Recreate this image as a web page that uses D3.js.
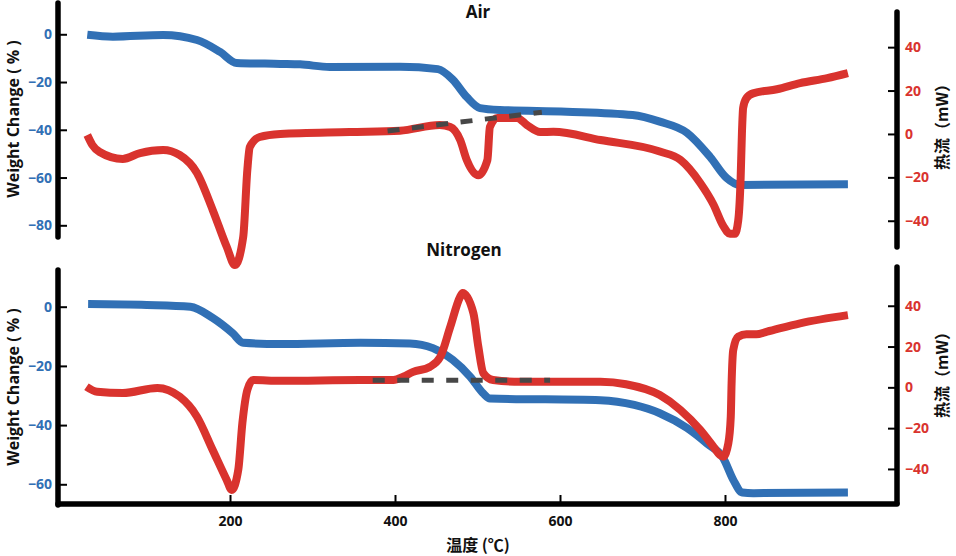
<!DOCTYPE html>
<html>
<head>
<meta charset="utf-8">
<script src="https://cdn.jsdelivr.net/npm/d3@7"></script>
<style>
  body { margin: 0; background: #fff; }
  svg text { font-family: "Open Sans", "Noto Sans CJK SC", sans-serif; font-weight: 700; }
  .cjk { font-family: "Noto Sans CJK SC", sans-serif; }
</style>
</head>
<body>
<svg id="chart" width="956" height="556"></svg>
<script>
// TGA / DSC curves
// each point is [temperature (°C), value]

// Air: weight change (%)
const airWeight = [
    [27, -0.2], [58, -1.0], [119, -0.3], [160, -2.4], [188, -7.4], [208, -12],
    [261, -12.4], [285, -12.6], [321, -13.7], [406, -13.6], [452, -14.6], [470, -19],
    [487, -26.3], [503, -30.9], [527, -31.7], [608, -32.4], [688, -33.8], [721, -36.6],
    [754, -41.3], [782, -51.4], [802, -60.2], [818, -63.1], [949, -62.8]
];

// Air: heat flow (mW)
const airHeat = [
    [27, -0.5], [33, -5], [42, -8.3], [70, -11.5], [91, -8.8], [119, -7.4], [139, -9.7],
    [160, -18], [179, -35], [196, -52], [206, -60.4], [216, -47.5], [221, -16.6],
    [224, -6], [236, -1.4], [261, 0], [345, 0.9], [406, 1.5], [454, 4.1],
    [467, 3.2], [479, -2.8], [487, -12], [501, -19], [512, -12], [515, 3.2],
    [524, 7.4], [548, 7.4], [560, 4.1], [576, 0.9], [592, 1], [649, -2.8],
    [721, -8.1], [746, -12], [770, -22.6], [786, -32.5], [798, -42.5], [806, -46],
    [812, -46], [816, -40], [819, -20], [820.5, 0], [822, 12], [826, 16.5],
    [834, 18.7], [863, 20.6], [891, 23.4], [924, 25.7], [949, 28]
];

// Air: dashed baseline (mW)
const airBaseline = [[391, 1.4], [578, 10]];

// Nitrogen: weight change (%)
const n2Weight = [
    [28, 0.9], [99, 0.6], [152, 0], [179, -3.8], [203, -8.9], [216, -12.2],
    [261, -12.6], [358, -12.2], [418, -12.4], [446, -14], [470, -18], [491, -23.6],
    [507, -29.3], [515, -31], [649, -31.6], [690, -33.2], [721, -36], [754, -41],
    [778, -46.2], [798, -51.2], [810, -58.5], [821, -62.8], [834, -63], [949, -62.8]
];

// Nitrogen: heat flow (mW)
const n2Heat = [
    [26, 0.3], [39, -2.2], [70, -2.8], [112, -0.3], [139, -4.6], [160, -14.4],
    [179, -30.7], [196, -45.4], [202, -50.3], [210, -40.5], [215, -17.5], [221, -1.3],
    [228, 3.6], [261, 3.2], [358, 3.6], [398, 3.6], [410, 5.2], [422, 7.6],
    [442, 10], [455, 15], [467, 29.7], [479, 44.4], [482, 46.2], [495, 36.4],
    [501, 19.9], [507, 7], [519, 3.6], [552, 2.7], [649, 2.7], [680, 1.5],
    [721, -3.8], [746, -11.1], [770, -20.9], [786, -29.1], [794, -33.2], [798, -34],
    [804, -27.5], [807, -14.4], [808, 2], [810, 18.3], [816, 24.8], [826, 26],
    [838, 26], [851, 27.3], [891, 31.4], [949, 35.4]
];

// Nitrogen: dashed baseline (mW)
const n2Baseline = [[373, 3.5], [588, 3.5]];

// tick labels
const tempTicks = [200, 400, 600, 800];
const airWeightTicks = [0, -20, -40, -60, -80];
const n2WeightTicks = [0, -20, -40, -60];
const heatTicks = [40, 20, 0, -20, -40];

const BLUE = '#3170b5';
const RED = '#d9332e';
const DASH = '#474747';

const svg = d3.select('#chart');

const x = d3.scaleLinear().domain([-8.5, 1008.5]).range([58, 897]);

const panels = [
    {
        title: 'Air', titleX: 478, titleY: 18,
        weight: airWeight, heat: airHeat, base: airBaseline,
        yL: d3.scaleLinear().domain([-84.9, 13.1]).range([237, 3]),
        yR: d3.scaleLinear().domain([-52.1, 56.2]).range([247, 12]),
        leftTicks: airWeightTicks, leftLabelY: 119, rightLabelY: 123
    },
    {
        title: 'Nitrogen', titleX: 464, titleY: 256,
        weight: n2Weight, heat: n2Heat, base: n2Baseline,
        yL: d3.scaleLinear().domain([-67, 12.4]).range([505, 270]),
        yR: d3.scaleLinear().domain([-56.7, 59]).range([503, 267]),
        leftTicks: n2WeightTicks, leftLabelY: 387, rightLabelY: 371
    }
];

function styleAxis(g, color) {
    g.select('.domain').remove();
    g.selectAll('.tick line').attr('stroke', '#000').attr('stroke-width', 2);
    g.selectAll('.tick text')
        .attr('fill', color)
        .style('font-size', '14px');
}

function axisLine(x1, y1, x2, y2) {
    svg.append('line')
        .attr('x1', x1).attr('y1', y1)
        .attr('x2', x2).attr('y2', y2)
        .attr('stroke', '#000')
        .attr('stroke-width', 5.5)
        .attr('stroke-linecap', 'round');
}

panels.forEach(p => {
    const lineL = d3.line().curve(d3.curveMonotoneX)
        .x(d => x(d[0])).y(d => p.yL(d[1]));
    const lineR = d3.line().curve(d3.curveMonotoneX)
        .x(d => x(d[0])).y(d => p.yR(d[1]));

    // left axis (weight)
    const gl = svg.append('g')
        .attr('transform', `translate(${x.range()[0]},0)`)
        .call(d3.axisLeft(p.yL).tickValues(p.leftTicks).tickSize(-9).tickPadding(6));
    styleAxis(gl, BLUE);

    // right axis (heat flow)
    const gr = svg.append('g')
        .attr('transform', `translate(${x.range()[1]},0)`)
        .call(d3.axisRight(p.yR).tickValues(heatTicks).tickSize(-9).tickPadding(8));
    styleAxis(gr, RED);

    axisLine(x.range()[0], p.yL.range()[1], x.range()[0], p.yL.range()[0]);
    axisLine(x.range()[1], p.yR.range()[1], x.range()[1], p.yR.range()[0]);

    // curves
    svg.append('path')
        .datum(p.weight)
        .attr('d', lineL)
        .attr('fill', 'none')
        .attr('stroke', BLUE)
        .attr('stroke-width', 8)
        .attr('stroke-linejoin', 'round');

    svg.append('path')
        .datum(p.heat)
        .attr('d', lineR)
        .attr('fill', 'none')
        .attr('stroke', RED)
        .attr('stroke-width', 8)
        .attr('stroke-linejoin', 'round');

    svg.append('path')
        .datum(p.base)
        .attr('d', d3.line().x(d => x(d[0])).y(d => p.yR(d[1])))
        .attr('fill', 'none')
        .attr('stroke', DASH)
        .attr('stroke-width', 5)
        .attr('stroke-dasharray', '12,12.5');

    // titles and axis labels
    svg.append('text')
        .attr('x', p.titleX).attr('y', p.titleY)
        .attr('text-anchor', 'middle')
        .style('font-size', '17px')
        .attr('fill', '#111')
        .text(p.title);

    svg.append('text')
        .attr('transform', `translate(19,${p.leftLabelY}) rotate(-90)`)
        .attr('text-anchor', 'middle')
        .style('font-size', '16px')
        .attr('fill', '#111')
        .text('Weight Change ( % )');

    svg.append('text')
        .attr('class', 'cjk')
        .attr('transform', `translate(948,${p.rightLabelY}) rotate(-90)`)
        .attr('text-anchor', 'middle')
        .style('font-size', '16px')
        .attr('fill', '#111')
        .text('热流（mW）');
});

// shared temperature axis at the bottom
const gx = svg.append('g')
    .attr('transform', 'translate(0,504)')
    .call(d3.axisBottom(x).tickValues(tempTicks).tickSize(-9).tickPadding(12));
styleAxis(gx, '#111');

axisLine(x.range()[0], 504, x.range()[1], 504);

svg.append('text')
    .attr('class', 'cjk')
    .attr('x', 478).attr('y', 551)
    .attr('text-anchor', 'middle')
    .style('font-size', '16px')
    .attr('fill', '#111')
    .text('温度 (℃)');
</script>
</body>
</html>
